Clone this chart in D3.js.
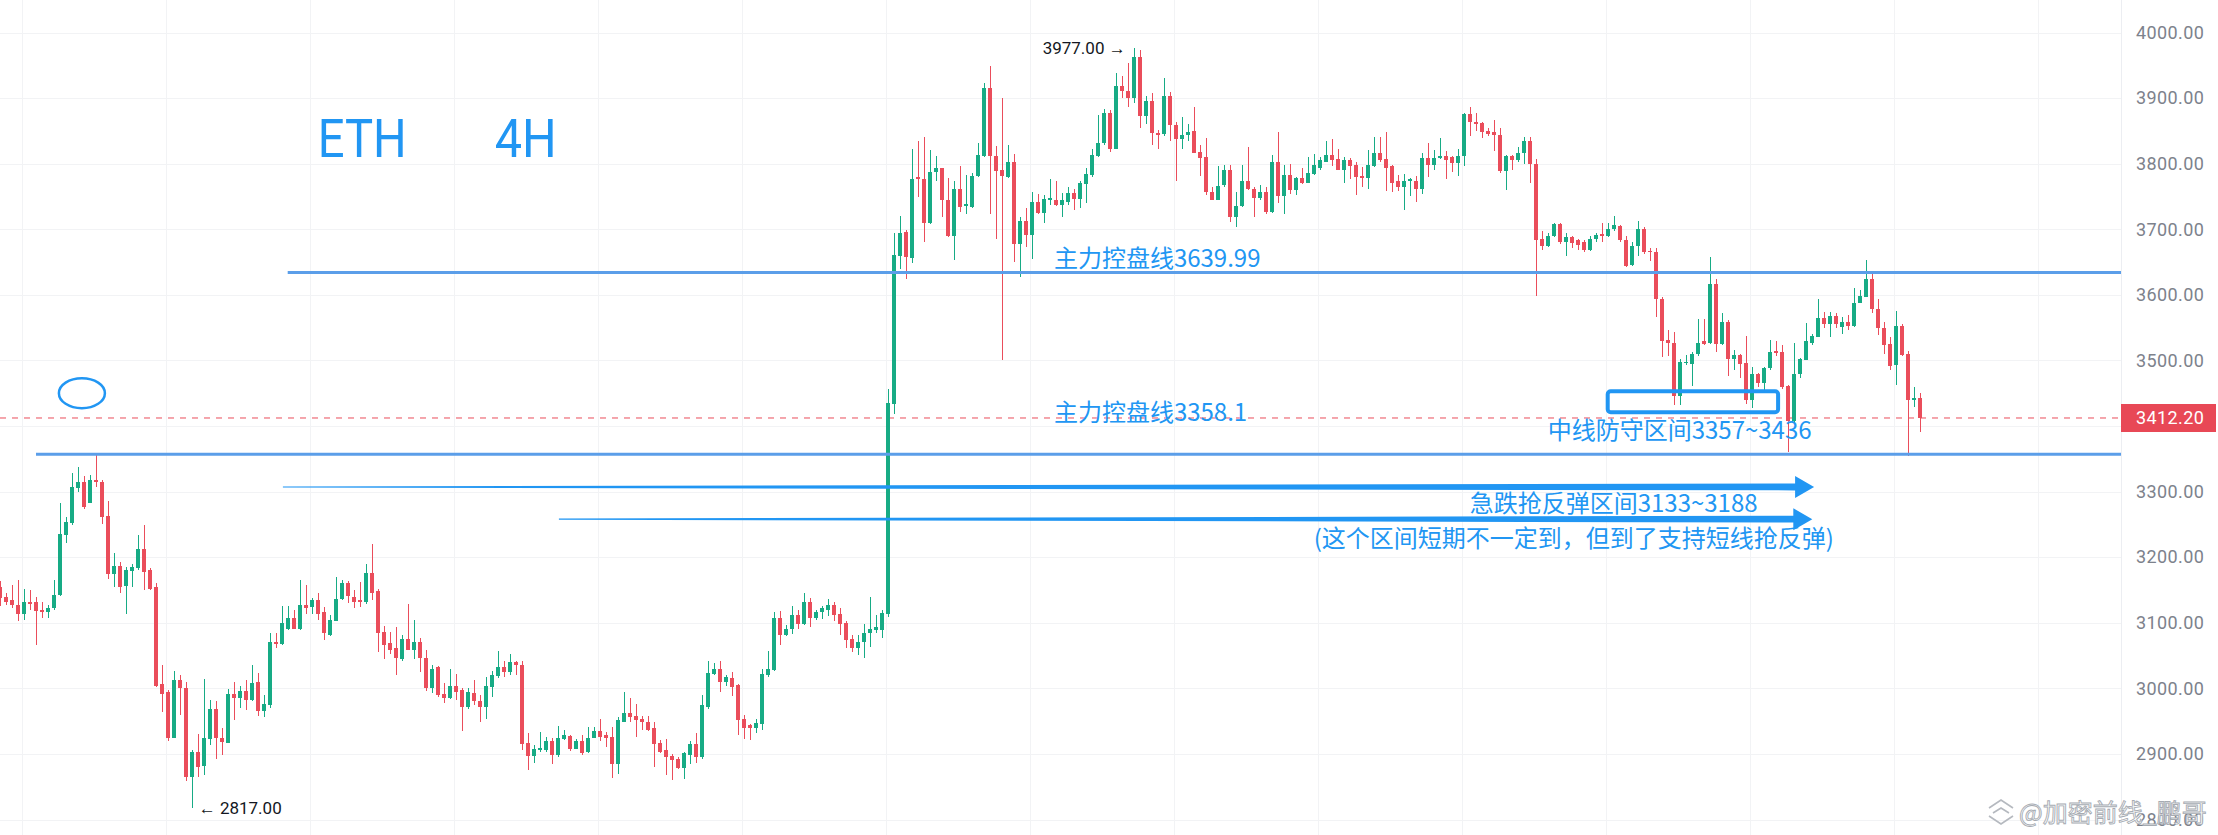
<!DOCTYPE html>
<html>
<head>
<meta charset="utf-8">
<script src="https://cdn.jsdelivr.net/npm/d3@7"></script>
<style>
  body { margin: 0; background: #fff; }
  svg { display: block; }
</style>
</head>
<body>
<div id="chart"></div>
<script>
// ETH 4H candles, index 0 .. 320
var opens = [
  3155,3139,3135,3127,3114,3132,3132,3120,3117,3122,
  3142,3234,3252,3306,3315,3283,3318,3315,3263,3174,
  3187,3156,3179,3183,3213,3180,3154,3006,2994,2925,
  3013,3001,2865,2903,2881,2922,2969,2925,2917,2992,
  2986,2996,2982,3009,2966,2975,3071,3068,3091,3108,
  3091,3127,3124,3135,3116,3082,3103,3136,3160,3140,
  3135,3132,3176,3149,3086,3069,3061,3044,3075,3059,
  3070,3047,3001,3032,2991,2985,3003,2997,2971,2993,
  2981,2972,3002,3019,3033,3025,3040,3036,2917,2897,
  2906,2906,2920,2898,2922,2928,2908,2919,2903,2925,
  2935,2929,2926,2885,2949,2962,2958,2954,2949,2940,
  2917,2906,2897,2892,2878,2898,2915,2895,2971,3022,
  3030,3009,3015,3005,2954,2944,2940,2946,3020,3028,
  3108,3081,3090,3112,3098,3132,3107,3117,3119,3127,
  3113,3100,3075,3061,3071,3085,3089,3089,3114,3434,
  3659,3696,3656,3779,3776,3709,3788,3793,3745,3689,
  3761,3735,3734,3781,3812,3916,3812,3790,3780,3803,
  3678,3712,3691,3742,3725,3744,3745,3737,3741,3756,
  3746,3769,3783,3812,3831,3878,3823,3918,3911,3900,
  3963,3872,3895,3847,3845,3903,3859,3837,3844,3850,
  3818,3810,3757,3745,3767,3790,3719,3735,3774,3761,
  3747,3757,3727,3802,3750,3783,3760,3778,3771,3785,
  3794,3803,3813,3807,3791,3805,3798,3781,3778,3796,
  3816,3807,3796,3773,3764,3773,3773,3762,3808,3798,
  3808,3812,3810,3801,3811,3876,3864,3862,3850,3849,
  3844,3789,3812,3805,3816,3835,3799,3685,3674,3689,
  3708,3680,3688,3683,3680,3669,3685,3693,3689,3700,
  3705,3683,3646,3674,3701,3667,3666,3593,3531,3527,
  3446,3496,3494,3510,3529,3527,3616,3525,3559,3502,
  3508,3496,3440,3480,3466,3488,3515,3513,3461,3407,
  3479,3501,3527,3536,3564,3556,3567,3551,3559,3552,
  3588,3597,3624,3579,3550,3525,3493,3552,3510,3440,
  3442
];
var highs = [
  3163,3145,3158,3165,3152,3150,3140,3132,3127,3165,
  3283,3262,3328,3338,3323,3325,3358,3318,3286,3206,
  3193,3185,3190,3234,3249,3183,3160,3035,2997,3027,
  3020,3010,2906,2931,3014,2982,2980,2939,2999,3010,
  3004,3013,3035,3023,2990,3084,3084,3125,3125,3120,
  3165,3157,3138,3145,3124,3112,3170,3165,3164,3150,
  3162,3190,3220,3152,3095,3086,3094,3081,3128,3104,
  3076,3058,3035,3034,3008,3030,3022,3000,3001,3013,
  2990,3017,3027,3057,3041,3052,3042,3042,2932,2913,
  2934,2926,2924,2942,2937,2929,2922,2929,2941,2941,
  2953,2934,2941,2957,2995,2985,2976,2958,2958,2948,
  2921,2922,2900,2896,2903,2919,2932,2990,3041,3038,
  3041,3020,3025,3007,2959,2946,2954,3030,3057,3117,
  3118,3096,3125,3120,3146,3137,3120,3125,3136,3131,
  3122,3102,3081,3081,3098,3139,3112,3119,3456,3694,
  3720,3699,3823,3835,3840,3821,3812,3794,3778,3773,
  3796,3783,3786,3832,3923,3949,3827,3900,3829,3815,
  3718,3732,3757,3754,3752,3776,3773,3756,3765,3761,
  3773,3793,3823,3874,3883,3882,3939,3934,3953,3977,
  3973,3903,3908,3852,3930,3910,3864,3871,3860,3887,
  3828,3839,3765,3796,3798,3798,3757,3798,3825,3765,
  3767,3765,3813,3849,3798,3800,3780,3793,3810,3815,
  3810,3834,3837,3823,3810,3808,3802,3795,3821,3840,
  3840,3849,3798,3783,3784,3778,3781,3817,3831,3821,
  3839,3820,3812,3823,3877,3886,3878,3864,3854,3866,
  3854,3813,3813,3825,3840,3840,3807,3698,3694,3709,
  3709,3695,3690,3685,3684,3690,3694,3710,3709,3720,
  3706,3690,3681,3713,3703,3672,3671,3596,3547,3544,
  3502,3508,3513,3563,3563,3658,3624,3573,3561,3516,
  3510,3537,3490,3481,3490,3531,3529,3523,3462,3527,
  3503,3557,3541,3593,3574,3574,3572,3566,3569,3611,
  3607,3653,3637,3593,3559,3535,3576,3555,3515,3460,
  3450
];
var lows = [
  3125,3127,3122,3102,3104,3120,3066,3107,3107,3120,
  3141,3222,3249,3300,3274,3282,3307,3250,3167,3155,
  3146,3114,3155,3180,3150,3150,3002,2964,2920,2924,
  2959,2858,2817,2865,2868,2914,2892,2898,2916,2951,
  2970,2967,2980,2958,2957,2970,3061,3066,3089,3090,
  3089,3114,3114,3104,3073,3080,3102,3135,3130,3122,
  3124,3129,3135,3056,3044,3053,3020,3042,3058,3044,
  3025,2996,2993,2987,2977,2983,2982,2935,2969,2975,
  2949,2954,2987,3015,3018,3020,3020,2906,2876,2886,
  2903,2903,2884,2895,2921,2905,2907,2898,2902,2924,
  2919,2911,2863,2869,2948,2948,2926,2936,2935,2880,
  2901,2868,2860,2877,2861,2885,2886,2892,2969,3020,
  2995,3003,2988,2929,2922,2921,2932,2937,3017,3027,
  3066,3080,3083,3090,3097,3094,3104,3105,3110,3102,
  3081,3062,3056,3051,3046,3063,3084,3076,3109,3419,
  3639,3624,3648,3749,3680,3708,3773,3719,3688,3653,
  3727,3723,3733,3780,3810,3723,3685,3500,3778,3650,
  3627,3673,3654,3723,3709,3737,3735,3719,3737,3730,
  3732,3740,3780,3810,3828,3818,3822,3900,3886,3892,
  3854,3861,3828,3822,3842,3835,3774,3823,3835,3816,
  3781,3752,3744,3744,3765,3711,3703,3734,3760,3719,
  3745,3724,3725,3740,3723,3754,3752,3769,3770,3783,
  3790,3802,3796,3790,3771,3776,3752,3764,3761,3795,
  3803,3759,3757,3759,3729,3751,3741,3754,3780,3791,
  3807,3776,3788,3781,3796,3842,3850,3839,3842,3820,
  3786,3760,3791,3802,3800,3771,3598,3669,3673,3688,
  3678,3659,3672,3669,3666,3667,3681,3681,3688,3698,
  3681,3642,3644,3659,3662,3651,3566,3505,3506,3432,
  3432,3493,3461,3507,3523,3525,3513,3523,3476,3485,
  3473,3434,3428,3460,3454,3486,3506,3456,3361,3405,
  3473,3500,3523,3535,3550,3536,3550,3541,3547,3551,
  3587,3596,3573,3539,3510,3485,3462,3507,3354,3429,
  3391
];
var closes = [
  3137,3131,3127,3114,3132,3128,3118,3117,3123,3143,
  3235,3253,3307,3315,3276,3318,3314,3261,3174,3186,
  3155,3181,3185,3213,3178,3152,3004,2991,2925,3013,
  3000,2865,2903,2880,2924,2969,2924,2918,2992,2986,
  2996,2982,3008,2966,2976,3071,3067,3099,3108,3091,
  3127,3123,3135,3114,3084,3104,3136,3160,3141,3132,
  3131,3176,3146,3085,3066,3059,3046,3075,3059,3070,
  3046,3001,3030,2990,2985,3003,2995,2971,2995,2980,
  2972,3003,3020,3033,3025,3040,3036,2915,2897,2908,
  2909,2919,2898,2924,2929,2907,2919,2902,2925,2935,
  2926,2925,2885,2952,2962,2956,2952,2948,2936,2915,
  2903,2895,2891,2878,2901,2915,2895,2975,3023,3030,
  3009,3017,3002,2952,2940,2940,2947,3022,3029,3108,
  3081,3091,3112,3098,3132,3107,3117,3122,3127,3112,
  3098,3074,3061,3070,3085,3091,3094,3115,3435,3661,
  3694,3657,3776,3776,3709,3788,3793,3744,3689,3761,
  3734,3738,3781,3813,3916,3811,3789,3781,3803,3678,
  3712,3691,3742,3725,3746,3747,3737,3744,3756,3746,
  3771,3784,3813,3832,3878,3823,3918,3911,3900,3963,
  3872,3895,3847,3844,3903,3859,3837,3844,3849,3817,
  3808,3757,3745,3766,3790,3719,3735,3774,3761,3747,
  3757,3727,3802,3750,3783,3760,3778,3771,3786,3798,
  3806,3813,3806,3791,3805,3796,3780,3778,3798,3816,
  3806,3793,3771,3764,3773,3776,3762,3808,3798,3808,
  3812,3806,3801,3812,3876,3863,3861,3849,3845,3844,
  3789,3812,3805,3817,3835,3799,3684,3674,3689,3708,
  3680,3688,3679,3676,3669,3685,3691,3689,3700,3706,
  3683,3644,3674,3701,3666,3666,3593,3530,3527,3446,
  3497,3498,3510,3526,3525,3616,3525,3559,3502,3508,
  3494,3440,3480,3466,3488,3513,3512,3459,3407,3479,
  3502,3529,3537,3564,3556,3567,3556,3559,3552,3588,
  3598,3624,3579,3549,3523,3491,3552,3508,3440,3442,
  3412.2
];

var priceTicks = d3.range(2800, 4001, 100);
var lastPrice = 3412.2;

// drawn levels: price and start index
var levelPrices = [3634, 3357];
var levelStarts = [48, 6.05];
var levelLabels = ["主力控盘线3639.99", "主力控盘线3358.1"];

// arrows: price, start index, tip index
var arrowPrices = [3307, 3258];
var arrowStarts = [47.2, 93.2];
var arrowTips = [302.4, 302.1];

var W = 2218, H = 835;
var plotRight = 2121;

var candles = opens.map(function(o, i) {
  return { i: i, o: o, h: highs[i], l: lows[i], c: closes[i] };
});

var x = d3.scaleLinear().domain([0, 320]).range([-0.3, 1919.7]);
var y = d3.scaleLinear().domain([2800, 4000]).range([819.5, 32.5]);

var upColor = "#17ab85", downColor = "#ea4d5b";
var blue = "#2196f3", lineBlue = "#5b9ee9";

var svg = d3.select("#chart").append("svg")
  .attr("width", W)
  .attr("height", H)
  .style("background", "#fff");

svg.append("defs").append("clipPath").attr("id", "clip")
  .append("rect").attr("x", 0).attr("y", 0).attr("width", plotRight).attr("height", H);

// grid
var grid = svg.append("g").attr("class", "grid");
grid.selectAll("line.h").data(priceTicks).enter().append("line")
  .attr("x1", 0).attr("x2", plotRight)
  .attr("y1", function(d) { return Math.round(y(d)) + 0.5; })
  .attr("y2", function(d) { return Math.round(y(d)) + 0.5; })
  .attr("stroke", "#f2f3f5");
grid.selectAll("line.v").data(d3.range(3.7, 356, 24)).enter().append("line")
  .attr("x1", function(d) { return Math.round(x(d)) + 0.5; })
  .attr("x2", function(d) { return Math.round(x(d)) + 0.5; })
  .attr("y1", 0).attr("y2", H)
  .attr("stroke", "#f2f3f5");

var plot = svg.append("g").attr("clip-path", "url(#clip)");

// last price dashed line
plot.append("line")
  .attr("x1", 0).attr("x2", plotRight)
  .attr("y1", y(lastPrice)).attr("y2", y(lastPrice))
  .attr("stroke", downColor)
  .attr("stroke-width", 1)
  .attr("stroke-dasharray", "6,6");

// candles
var cg = plot.append("g");
cg.selectAll("rect.wick").data(candles).enter().append("rect")
  .attr("x", function(d) { return Math.round(x(d.i)) - 0.5; })
  .attr("width", 1)
  .attr("y", function(d) { return y(d.h); })
  .attr("height", function(d) { return y(d.l) - y(d.h); })
  .attr("fill", function(d) { return d.c >= d.o ? upColor : downColor; })
  .attr("shape-rendering", "crispEdges");
cg.selectAll("rect.body").data(candles).enter().append("rect")
  .attr("x", function(d) { return Math.round(x(d.i)) - 2; })
  .attr("width", 4)
  .attr("y", function(d) { return y(Math.max(d.o, d.c)); })
  .attr("height", function(d) { return Math.max(1, Math.abs(y(d.o) - y(d.c))); })
  .attr("fill", function(d) { return d.c >= d.o ? upColor : downColor; })
  .attr("shape-rendering", "crispEdges");

// horizontal levels
levelPrices.forEach(function(p, k) {
  plot.append("line")
    .attr("x1", x(levelStarts[k])).attr("x2", plotRight)
    .attr("y1", y(p)).attr("y2", y(p))
    .attr("stroke", lineBlue)
    .attr("stroke-width", 3);
});

// tapered arrows
arrowPrices.forEach(function(p, k) {
  var yy = y(p), x0 = x(arrowStarts[k]), xt = x(arrowTips[k]), xb = xt - 19;
  var pts = [[x0, yy - 0.6], [xb, yy - 3.4], [xb, yy - 11], [xt, yy], [xb, yy + 11], [xb, yy + 3.4], [x0, yy + 0.6]];
  plot.append("path")
    .attr("d", d3.line()(pts) + "Z")
    .attr("fill", blue);
});

// defence box
plot.append("rect")
  .attr("x", x(268)).attr("y", y(3453))
  .attr("width", x(296.4) - x(268))
  .attr("height", y(3421) - y(3453))
  .attr("rx", 3)
  .attr("fill", "none")
  .attr("stroke", blue)
  .attr("stroke-width", 4);

// marker ellipse
plot.append("ellipse")
  .attr("cx", x(13.7)).attr("cy", y(3450))
  .attr("rx", 23).attr("ry", 15)
  .attr("fill", "none")
  .attr("stroke", blue)
  .attr("stroke-width", 2.5);

// annotation texts
var cjk = "'Noto Sans CJK SC', 'Noto Sans', sans-serif";
var notes = [
  { t: levelLabels[0], i: 175.7, p: 3642 },
  { t: levelLabels[1], i: 175.7, p: 3408 },
  { t: "中线防守区间3357~3436", i: 258, p: 3380 },
  { t: "急跌抢反弹区间3133~3188", i: 245, p: 3269 },
  { t: "(这个区间短期不一定到，但到了支持短线抢反弹)", i: 219, p: 3216 }
];
svg.selectAll("text.note").data(notes).enter().append("text")
  .attr("x", function(d) { return x(d.i); })
  .attr("y", function(d) { return y(d.p); })
  .attr("font-family", cjk)
  .attr("font-size", 24)
  .attr("fill", blue)
  .text(function(d) { return d.t; });

svg.append("text")
  .attr("x", x(53)).attr("y", y(3810))
  .attr("font-family", "Roboto, sans-serif")
  .attr("font-size", 54)
  .attr("fill", blue)
  .attr("textLength", 89).attr("lengthAdjust", "spacingAndGlyphs")
  .text("ETH");
svg.append("text")
  .attr("x", x(82.5)).attr("y", y(3810))
  .attr("font-family", "Roboto, sans-serif")
  .attr("font-size", 54)
  .attr("fill", blue)
  .attr("textLength", 62).attr("lengthAdjust", "spacingAndGlyphs")
  .text("4H");

// high / low markers
var hiIdx = d3.maxIndex(candles, function(d) { return d.h; });
var loIdx = d3.minIndex(candles, function(d) { return d.l; });
var hi = candles[hiIdx], lo = candles[loIdx];
svg.append("text")
  .attr("x", x(hi.i) - 8).attr("y", y(hi.h) + 6)
  .attr("text-anchor", "end")
  .attr("font-family", "Roboto, sans-serif")
  .attr("font-size", 17)
  .attr("fill", "#131722")
  .text(d3.format(".2f")(hi.h) + " \u2192");
svg.append("text")
  .attr("x", x(lo.i) + 7).attr("y", y(lo.l) + 6)
  .attr("font-family", "Roboto, sans-serif")
  .attr("font-size", 17)
  .attr("fill", "#131722")
  .text("\u2190 " + d3.format(".2f")(lo.l));

// right price axis
svg.append("line")
  .attr("x1", plotRight + 0.5).attr("x2", plotRight + 0.5)
  .attr("y1", 0).attr("y2", H)
  .attr("stroke", "#eceef2");

// the tick hidden under the last-price label is left out
var axisTicks = priceTicks.filter(function(p) { return Math.abs(y(p) - y(lastPrice)) > 20; });
var axis = d3.axisRight(y)
  .tickValues(axisTicks)
  .tickFormat(d3.format(".2f"))
  .tickSize(0)
  .tickPadding(15);
var ag = svg.append("g")
  .attr("transform", "translate(" + plotRight + ",0)")
  .call(axis);
ag.select(".domain").remove();
ag.selectAll("text")
  .attr("font-family", "Roboto, sans-serif")
  .attr("font-size", 18)
  .attr("letter-spacing", 0.4)
  .attr("fill", "#7d828c");

// last price label
svg.append("rect")
  .attr("x", plotRight).attr("y", y(lastPrice) - 14)
  .attr("width", W - plotRight - 2).attr("height", 28)
  .attr("fill", "#e84856");
svg.append("text")
  .attr("x", plotRight + 15).attr("y", y(lastPrice))
  .attr("dy", "0.35em")
  .attr("font-family", "Roboto, sans-serif")
  .attr("font-size", 18)
  .attr("letter-spacing", 0.4)
  .attr("fill", "#fff")
  .text(d3.format(".2f")(lastPrice));

// watermark
var wm = svg.append("g").attr("transform", "translate(1987,822)");
wm.append("path")
  .attr("d", "M2,-14 L14,-22 L26,-14 M6,-9 L14,-14 L22,-9 M2,-6 L14,2 L26,-6")
  .attr("fill", "none")
  .attr("stroke", "#b5b9bf")
  .attr("stroke-width", 1.6);
wm.append("text")
  .attr("x", 32).attr("y", 0)
  .attr("font-family", cjk)
  .attr("font-size", 25)
  .attr("fill", "#fff")
  .attr("stroke", "#a6abb2")
  .attr("stroke-width", 0.9)
  .attr("paint-order", "fill")
  .text("@加密前线_鹏哥");
</script>
</body>
</html>
